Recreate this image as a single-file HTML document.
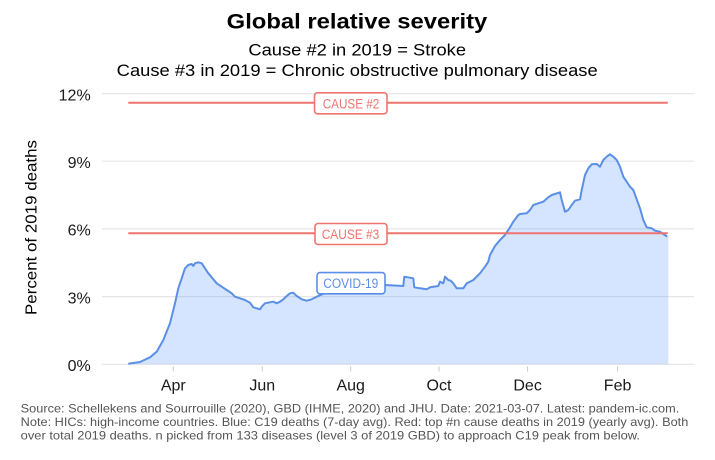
<!DOCTYPE html>
<html>
<head>
<meta charset="utf-8">
<style>
  html, body { margin: 0; padding: 0; background: #ffffff; }
  svg { display: block; font-family: "Liberation Sans", Arial, sans-serif; }
</style>
</head>
<body>
<svg width="715" height="460" viewBox="0 0 715 460" xmlns="http://www.w3.org/2000/svg">
  <rect x="0" y="0" width="715" height="460" fill="#ffffff"/>

  <!-- Title & subtitles -->
  <text x="357" y="28.3" text-anchor="middle" font-size="21.7" font-weight="bold" fill="#000" textLength="260.6" lengthAdjust="spacingAndGlyphs">Global relative severity</text>
  <text x="357.2" y="55.7" text-anchor="middle" font-size="17" fill="#000" textLength="217.7" lengthAdjust="spacingAndGlyphs">Cause #2 in 2019 = Stroke</text>
  <text x="357.2" y="76" text-anchor="middle" font-size="17" fill="#000" textLength="481" lengthAdjust="spacingAndGlyphs">Cause #3 in 2019 = Chronic obstructive pulmonary disease</text>

  <!-- Gridlines -->
  <g stroke="#e6e6e6" stroke-width="1.2">
    <line x1="102" y1="93.6" x2="694" y2="93.6"/>
    <line x1="102" y1="161.2" x2="694" y2="161.2"/>
    <line x1="102" y1="228.9" x2="694" y2="228.9"/>
    <line x1="102" y1="296.6" x2="694" y2="296.6"/>
    <line x1="102" y1="364.3" x2="694" y2="364.3"/>
  </g>

  <!-- Y tick labels -->
  <g font-size="16" fill="#1a1a1a" text-anchor="end">
    <text x="90.7" y="100.4">12%</text>
    <text x="90.7" y="168">9%</text>
    <text x="90.7" y="235.7">6%</text>
    <text x="90.7" y="303.4">3%</text>
    <text x="90.7" y="371.1">0%</text>
  </g>

  <!-- Y axis title -->
  <text transform="translate(36.7,227.5) rotate(-90)" text-anchor="middle" font-size="16" fill="#000" textLength="175" lengthAdjust="spacingAndGlyphs">Percent of 2019 deaths</text>

  <!-- X ticks -->
  <g stroke="#c8c8c8" stroke-width="1">
    <line x1="173.3" y1="366.5" x2="173.3" y2="371.5"/>
    <line x1="262.3" y1="366.5" x2="262.3" y2="371.5"/>
    <line x1="350.7" y1="366.5" x2="350.7" y2="371.5"/>
    <line x1="439" y1="366.5" x2="439" y2="371.5"/>
    <line x1="527.6" y1="366.5" x2="527.6" y2="371.5"/>
    <line x1="617.6" y1="366.5" x2="617.6" y2="371.5"/>
  </g>
  <g font-size="16" fill="#1a1a1a" text-anchor="middle">
    <text x="173.3" y="390.5">Apr</text>
    <text x="262.3" y="390.5">Jun</text>
    <text x="350.7" y="390.5">Aug</text>
    <text x="439" y="390.5">Oct</text>
    <text x="527.6" y="390.5">Dec</text>
    <text x="617.6" y="390.5">Feb</text>
  </g>

  <!-- Area -->
  <path fill="#619CFF" fill-opacity="0.26" stroke="none" d="M128.3,364.3 L128.3,363.7 L140,362 L150,357.3 L156.7,351.7 L163.3,340 L170,323.3 L175,303.3 L178.3,288.3 L181.7,278.3 L185,268.3 L188.3,265 L191.7,264 L193.3,266 L195,263.3 L198.3,262.3 L201.7,263.3 L205,268.3 L208.3,273.3 L211.7,277.3 L216.7,283.3 L221.7,286.7 L226.7,290 L231.7,293.3 L235,296.7 L240,298.3 L245,300 L250,302.7 L253.3,307.3 L256.7,308.3 L260,309.3 L261.7,306.7 L265,303.3 L270,302.3 L273.3,301.7 L276.7,303.3 L280,301.7 L283.3,299.3 L286.7,296 L290,293.3 L293.3,292.7 L296.7,296 L301.7,299.3 L306.7,300.7 L311.7,299.3 L316.7,296.7 L330,291 L350,289 L370,287 L385,285 L403.3,286 L404.3,276.7 L413.3,278.3 L414.3,287.3 L420,288.3 L426.7,289.3 L430,287.3 L438.3,286 L440,281.7 L443.3,283.3 L445,276.7 L448.3,280 L450.7,280.7 L453.3,283.3 L456.7,288.3 L463.3,288.3 L466.7,283.3 L473.3,280 L480,273.3 L485,266.7 L488.3,261.7 L490,255 L495,246 L500,240 L505,235 L510,227.3 L513.3,221.7 L518.3,215 L520,214 L526.7,213.3 L530,210 L533.3,205 L538.3,203.3 L543.3,201.7 L548.3,197.3 L551.7,195 L555,194 L560,192.3 L561.7,200 L565,211.7 L568.3,210 L571.7,205 L575,200.7 L580,199.3 L581.7,190 L585,175 L588.3,168.3 L591.7,164.3 L596.7,164 L600,166.7 L603.3,160 L606.7,156.7 L610,154.3 L613.3,156.7 L616.7,160 L620,166.7 L623.3,176.7 L626.7,181.7 L630,186.7 L633.3,190 L636.7,199.3 L640,208.3 L643.3,220 L646.7,227.3 L651.7,228.3 L655,230.7 L660,231.7 L663.3,234 L667.3,236.7 L668.3,237 L668.3,364.3 Z"/>

  <!-- Line -->
  <polyline fill="none" stroke="#5b8fe6" stroke-width="2" stroke-linejoin="round" points="128.3,363.7 140,362 150,357.3 156.7,351.7 163.3,340 170,323.3 175,303.3 178.3,288.3 181.7,278.3 185,268.3 188.3,265 191.7,264 193.3,266 195,263.3 198.3,262.3 201.7,263.3 205,268.3 208.3,273.3 211.7,277.3 216.7,283.3 221.7,286.7 226.7,290 231.7,293.3 235,296.7 240,298.3 245,300 250,302.7 253.3,307.3 256.7,308.3 260,309.3 261.7,306.7 265,303.3 270,302.3 273.3,301.7 276.7,303.3 280,301.7 283.3,299.3 286.7,296 290,293.3 293.3,292.7 296.7,296 301.7,299.3 306.7,300.7 311.7,299.3 316.7,296.7 330,291 350,289 370,287 385,285 403.3,286 404.3,276.7 413.3,278.3 414.3,287.3 420,288.3 426.7,289.3 430,287.3 438.3,286 440,281.7 443.3,283.3 445,276.7 448.3,280 450.7,280.7 453.3,283.3 456.7,288.3 463.3,288.3 466.7,283.3 473.3,280 480,273.3 485,266.7 488.3,261.7 490,255 495,246 500,240 505,235 510,227.3 513.3,221.7 518.3,215 520,214 526.7,213.3 530,210 533.3,205 538.3,203.3 543.3,201.7 548.3,197.3 551.7,195 555,194 560,192.3 561.7,200 565,211.7 568.3,210 571.7,205 575,200.7 580,199.3 581.7,190 585,175 588.3,168.3 591.7,164.3 596.7,164 600,166.7 603.3,160 606.7,156.7 610,154.3 613.3,156.7 616.7,160 620,166.7 623.3,176.7 626.7,181.7 630,186.7 633.3,190 636.7,199.3 640,208.3 643.3,220 646.7,227.3 651.7,228.3 655,230.7 660,231.7 663.3,234 667.3,236.7"/>

  <!-- Red cause lines -->
  <g stroke="#ee7470" stroke-width="2">
    <line x1="128.3" y1="102.7" x2="667.8" y2="102.7"/>
    <line x1="128.3" y1="233.3" x2="667.8" y2="233.3"/>
  </g>

  <!-- Labels -->
  <rect x="314.5" y="92.8" width="72.5" height="21" rx="3" ry="3" fill="#ffffff" stroke="#ee7470" stroke-width="1.6"/>
  <text x="351" y="108.3" text-anchor="middle" font-size="13.5" fill="#ee7470" textLength="56.6" lengthAdjust="spacingAndGlyphs">CAUSE #2</text>

  <rect x="315" y="223.5" width="72" height="21" rx="3" ry="3" fill="#ffffff" stroke="#ee7470" stroke-width="1.6"/>
  <text x="350.5" y="239" text-anchor="middle" font-size="13.5" fill="#ee7470" textLength="57.6" lengthAdjust="spacingAndGlyphs">CAUSE #3</text>

  <rect x="317" y="272.6" width="68" height="21.2" rx="3" ry="3" fill="#ffffff" stroke="#5b8fe6" stroke-width="1.6"/>
  <text x="350.8" y="288.2" text-anchor="middle" font-size="13.5" fill="#5b8fe6" textLength="55" lengthAdjust="spacingAndGlyphs">COVID-19</text>

  <!-- Footer caption -->
  <g font-size="12" fill="#555555">
    <text x="20.7" y="412.5" textLength="658.6" lengthAdjust="spacingAndGlyphs">Source: Schellekens and Sourrouille (2020), GBD (IHME, 2020) and JHU. Date: 2021-03-07. Latest: pandem-ic.com.</text>
    <text x="20.7" y="426" textLength="667.6" lengthAdjust="spacingAndGlyphs">Note: HICs: high-income countries. Blue: C19 deaths (7-day avg). Red: top #n cause deaths in 2019 (yearly avg). Both</text>
    <text x="20.7" y="439.5" textLength="619.3" lengthAdjust="spacingAndGlyphs">over total 2019 deaths. n picked from 133 diseases (level 3 of 2019 GBD) to approach C19 peak from below.</text>
  </g>
</svg>
</body>
</html>
